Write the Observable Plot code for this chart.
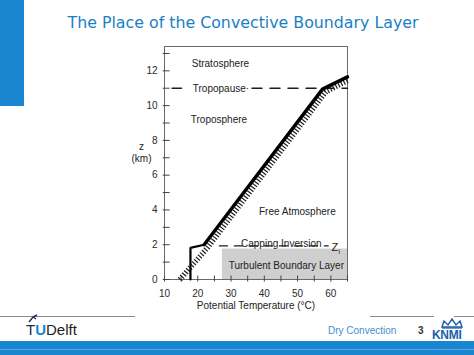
<!DOCTYPE html>
<html>
<head>
<meta charset="utf-8">
<script src="https://cdn.jsdelivr.net/npm/d3@7"></script>
<script src="https://cdn.jsdelivr.net/npm/@observablehq/plot@0.6"></script>
<style>
  html, body { margin: 0; padding: 0; background: #fff; }
  #slide { position: relative; width: 474px; height: 355px; overflow: hidden; background: #fff; }
  #chart { position: absolute; left: 0; top: 0; }
  .abs { position: absolute; white-space: nowrap; }
</style>
</head>
<body>
<div id="slide">
  <div class="abs" style="left:0;top:0;width:24px;height:106px;background:#1a86d2;"></div>
  <div class="abs" id="title" style="left:243px;top:13px;transform:translateX(-50%);font-family:'DejaVu Sans',Verdana,sans-serif;font-size:15.8px;color:#1a80c6;">The Place of the Convective Boundary Layer</div>
  <div class="abs" style="left:0;top:316px;width:135px;height:1px;background:#8a8a8a;"></div>
  <div class="abs" style="left:370px;top:316px;width:64px;height:1px;background:#8a8a8a;"></div>
  <div class="abs" style="left:454px;top:316px;width:20px;height:1px;background:#8a8a8a;"></div>
  <div class="abs" style="left:26px;top:321px;font-family:'Liberation Sans',Arial,sans-serif;font-size:15px;color:#222;"><span style="color:#1d2a4d;">T</span><span style="color:#1a86d2;font-weight:bold;">U</span><span>Delft</span></div>
  <div class="abs" style="left:328px;top:325px;font-family:'Liberation Sans',Arial,sans-serif;font-size:10px;color:#3f8fd0;">Dry Convection</div>
  <div class="abs" style="left:418px;top:325px;font-family:'Liberation Sans',Arial,sans-serif;font-size:10px;font-weight:bold;color:#333;">3</div>
  <div class="abs" style="left:432px;top:328px;font-family:'Liberation Sans',Arial,sans-serif;font-size:12px;font-weight:bold;color:#1a5fa8;letter-spacing:-0.3px;">KNMI</div>
  <svg class="abs" style="left:440px;top:317px;" width="24" height="12" viewBox="0 0 24 12">
    <path d="M2 10 L4 4 L8 8 L12 2 L16 8 L20 4 L22 10 Z" fill="none" stroke="#1a5fa8" stroke-width="1.4"/>
    <line x1="2" y1="11" x2="22" y2="11" stroke="#1a5fa8" stroke-width="1.2"/>
  </svg>
  <svg class="abs" style="left:27px;top:313px;" width="12" height="10" viewBox="0 0 12 10">
    <path d="M2 9 L6 4 L10 2 M6 4 L9 6" fill="none" stroke="#1d2a4d" stroke-width="1.4"/>
  </svg>
  <div class="abs" style="left:0;top:341px;width:474px;height:14px;background:#1a86d2;"></div>
  <div class="abs" style="left:0;top:349px;width:474px;height:1px;background:#5aa9e2;"></div>
  <div id="chart"></div>
</div>
<script>
// ---- data ----
const xTickLabels = [10, 20, 30, 40, 50, 60];
const xMinorTicks = [10, 15, 20, 25, 30, 35, 40, 45, 50, 55, 60, 65];
const yTickLabels = [0, 2, 4, 6, 8, 10, 12];
const yMinorTicks = [0, 1, 2, 3, 4, 5, 6, 7, 8, 9, 10, 11, 12, 13];

// thick (observed) potential temperature profile above the CBL
const profileT = [21.9, 57.5, 65.0];
const profileZ = [2.0, 10.95, 11.65];
// hatched dry-adiabat edge
const hatchT = [14.6, 23.0, 58.5, 65.0];
const hatchZ = [0.0, 1.85, 10.8, 11.45];
// thin mixed-layer profile
const mixedT = [17.8, 17.8, 21.9];
const mixedZ = [0.0, 1.82, 2.0];

const tropopauseZ = 11.0;
const tropoSegA = [12.3, 15.1];
const tropoSegB = [36.3, 65.0];
const cappingZ = 1.93;
const cappingT = [26.5, 59.2];
const blT = [27.4, 65.0];
const blZ = [0.0, 1.75];

const labels = [
  {t: 18.2, z: 12.4, s: "Stratosphere"},
  {t: 18.5, z: 10.97, s: "Tropopause·"},
  {t: 17.9, z: 9.16, s: "Troposphere"},
  {t: 38.4, z: 3.9, s: "Free Atmosphere"},
  {t: 33.0, z: 2.08, s: "Capping Inversion"},
  {t: 29.3, z: 0.8, s: "Turbulent Boundary Layer"}
];

const ink = "#1c1c1c";

const chart = Plot.plot({
  width: 474,
  height: 355,
  marginLeft: 164,
  marginRight: 127,
  marginTop: 46,
  marginBottom: 76,
  x: {domain: [10, 65]},
  y: {domain: [0, 13.4]},
  style: {fontFamily: "'Liberation Sans', Arial, sans-serif", fontSize: "10px", color: "#2a2a2a", background: "transparent"},
  marks: [
    Plot.rect([0], {x1: () => blT[0], x2: () => blT[1], y1: () => blZ[0], y2: () => blZ[1], fill: "#cfcfcf"}),
    Plot.frame({stroke: "#6a6a6a", strokeWidth: 1}),
    Plot.axisX({ticks: xTickLabels, tickSize: 0, tickPadding: 10, label: null, fontSize: 10}),
    Plot.axisY({ticks: yTickLabels, tickSize: 0, tickPadding: 7, label: null, fontSize: 10}),
    Plot.ruleX(xMinorTicks, {x: d => d, y1: -0.15, y2: 0.2, stroke: "#444"}),
    Plot.ruleY(yMinorTicks, {y: d => d, x1: 9.6, x2: 11.7, stroke: "#444"}),
    // tropopause dashed line
    Plot.line(tropoSegA, {x: d => d, y: () => tropopauseZ, stroke: ink, strokeWidth: 1.5}),
    Plot.line(tropoSegB, {x: d => d, y: () => tropopauseZ, stroke: ink, strokeWidth: 1.5, strokeDasharray: "10,8"}),
    // capping inversion dashed line
    Plot.line(cappingT, {x: d => d, y: () => cappingZ, stroke: ink, strokeWidth: 1.3, strokeDasharray: "8,7"}),
    // hatched edge
    Plot.line(hatchT.map((t, i) => i), {x: i => hatchT[i], y: i => hatchZ[i], stroke: ink, strokeWidth: 5.5, strokeDasharray: "1.2,1.8", strokeLinejoin: "miter", strokeLinecap: "butt"}),
    // thick profile
    Plot.line(profileT.map((t, i) => i), {x: i => profileT[i], y: i => profileZ[i], stroke: "#000", strokeWidth: 3.5}),
    // thin mixed-layer profile
    Plot.line(mixedT.map((t, i) => i), {x: i => mixedT[i], y: i => mixedZ[i], stroke: "#000", strokeWidth: 2.2, strokeLinejoin: "miter"}),
    // region labels
    Plot.text(labels, {x: "t", y: "z", text: "s", textAnchor: "start", fill: "#222", fontSize: 10}),
    Plot.text(["Z"], {x: 60.2, y: 1.85, text: d => d, textAnchor: "start", fill: "#222", fontSize: 11}),
    Plot.text(["i"], {x: 60.2, y: 1.85, text: d => d, textAnchor: "start", dx: 7, dy: 4, fill: "#222", fontSize: 7}),
    // axis titles
    Plot.text(["z"], {x: 10, y: 7.65, text: d => d, dx: -23, fill: "#222", fontSize: 10}),
    Plot.text(["(km)"], {x: 10, y: 6.95, text: d => d, dx: -23, fill: "#222", fontSize: 10}),
    Plot.text(["Potential Temperature (°C)"], {frameAnchor: "bottom", dy: 29, fill: "#222", fontSize: 10})
  ]
});
document.getElementById("chart").appendChild(chart);
</script>
</body>
</html>
